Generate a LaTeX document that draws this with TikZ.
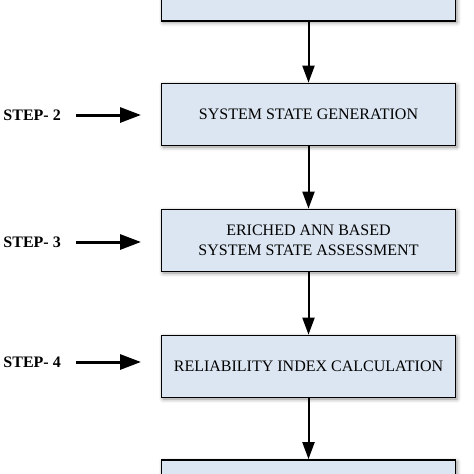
\documentclass[tikz,border=0pt]{standalone}
\usepackage{fontspec}
\setmainfont{Liberation Serif}
\usetikzlibrary{arrows.meta,shadows.blur}
\definecolor{color_box}{rgb}{0.863,0.902,0.949}

\tikzset{
  stagebox/.style={draw=black, line width=1.7pt, fill=color_box,
    minimum width=294pt, minimum height=62pt, align=center,
    font=\fontsize{16}{19.5}\selectfont,
    blur shadow={shadow xshift=1.5pt, shadow yshift=-1.5pt, shadow blur radius=4pt, shadow opacity=45}},
  steplabel/.style={anchor=east, inner sep=0pt, font=\fontsize{16}{18}\selectfont\bfseries},
  flowarrow/.style={line width=2pt, -{Triangle[length=17pt,width=12pt]}},
  steparrow/.style={line width=3pt, -{Triangle[length=21pt,width=15pt]}}
}

\begin{document}
\begin{tikzpicture}[x=1pt,y=-1pt]
		\useasboundingbox (0,0) rectangle (474,474);
		
		% Boites des etapes
		\node[stagebox] (stage1) at (308.5,-10) {};
		\node[stagebox] (stage2) at (308.5,114.5) {SYSTEM STATE GENERATION};
		\node[stagebox] (stage3) at (308.5,240.5) {ERICHED ANN BASED\\SYSTEM STATE ASSESSMENT};
		\node[stagebox] (stage4) at (308.5,366.5) {RELIABILITY INDEX CALCULATION};
		\node[stagebox] (stage5) at (308.5,491) {};
		
		% Fleches entre les boites
		\draw[flowarrow] (stage1) -- (stage2);
		\draw[flowarrow] (stage2) -- (stage3);
		\draw[flowarrow] (stage3) -- (stage4);
		\draw[flowarrow] (stage4) -- (stage5);
		
		% Etiquettes des etapes
		\node[steplabel] (lab2) at (61,115) {STEP- 2};
		\node[steplabel] (lab3) at (61,242) {STEP- 3};
		\node[steplabel] (lab4) at (61,362) {STEP- 4};
		\coordinate (tip2) at (141,115);
		\coordinate (tip3) at (141,242);
		\coordinate (tip4) at (141,362);
		\draw[steparrow] ([xshift=15pt]lab2.east) -- (tip2);
		\draw[steparrow] ([xshift=15pt]lab3.east) -- (tip3);
		\draw[steparrow] ([xshift=15pt]lab4.east) -- (tip4);
	\end{tikzpicture}
\end{document}
